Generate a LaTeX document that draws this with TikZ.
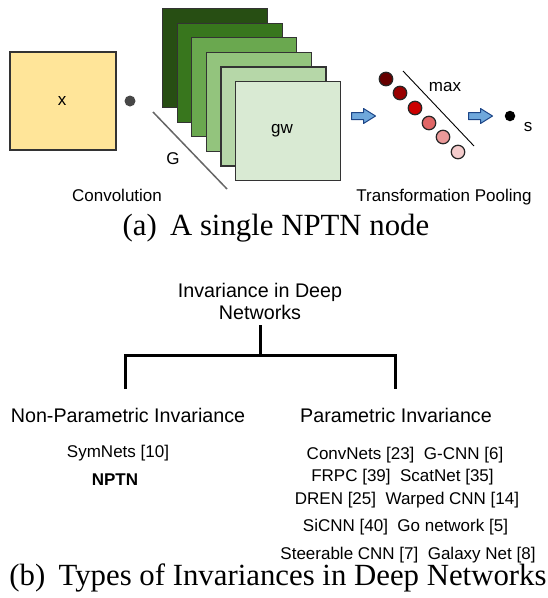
\documentclass[tikz,border=0pt]{standalone}
\usepackage{fontspec}
\setmainfont{Liberation Sans}
\newfontfamily\capfont{Liberation Serif}
\definecolor{ylw}{HTML}{FFE599}
\definecolor{gA}{HTML}{274E13}
\definecolor{gB}{HTML}{38761D}
\definecolor{gC}{HTML}{6AA84F}
\definecolor{gD}{HTML}{93C47D}
\definecolor{gE}{HTML}{B6D7A8}
\definecolor{gF}{HTML}{D9EAD3}
\definecolor{rA}{HTML}{660000}
\definecolor{rB}{HTML}{990000}
\definecolor{rC}{HTML}{CC0000}
\definecolor{rD}{HTML}{E06666}
\definecolor{rE}{HTML}{EA9999}
\definecolor{rF}{HTML}{F4CCCC}
\definecolor{blu}{HTML}{6FA8DC}
\definecolor{bluedge}{HTML}{1C4587}
\definecolor{edge}{HTML}{333333}
\tikzset{
  lbl/.style={font=\fontsize{17}{20}\selectfont, inner sep=0pt},
  sq/.style={draw=edge, line width=1.2pt, minimum width=105pt, minimum height=99pt, inner sep=0pt, anchor=north west},
  rdot/.style={circle, draw=black!85, line width=1.2pt, minimum size=13.5pt, inner sep=0pt},
  captext/.style={font=\capfont\fontsize{30.8}{34}\selectfont, inner sep=0pt},
  hdr/.style={font=\fontsize{19.7}{22}\selectfont, inner sep=0pt},
  item/.style={font=\fontsize{17}{20}\selectfont, inner sep=0pt},
  tree/.style={line width=3pt, line join=miter},
  barrow/.pic={\draw[draw=bluedge, fill=blu, line width=1pt, line join=round] (-12,-3.5) -- (0,-3.5) -- (0,-7.5) -- (12,0) -- (0,7.5) -- (0,3.5) -- (-12,3.5) -- cycle;}
}
\begin{document}
\begin{tikzpicture}[x=1pt,y=-1pt]
\useasboundingbox (0,0) rectangle (548,598);
% ---- part (a)
\node[draw=edge, line width=1.2pt, fill=ylw, minimum width=106pt, minimum height=98pt, inner sep=0pt] (xbox) at (63,101) {};
\node[lbl] (xlab) at (62,101) {x};
\node[circle, fill=black!72, minimum size=11pt, inner sep=0pt] (conv) at (130,101) {};
\node[sq, fill=gA] (s1) at (162,8) {};
\node[sq, fill=gB] (s2) at (176.6,22.6) {};
\node[sq, fill=gC] (s3) at (191.2,37.2) {};
\node[sq, fill=gD] (s4) at (205.8,51.8) {};
\node[sq, fill=gE] (s5) at (220.4,66.4) {};
\node[sq, fill=gF] (s6) at (235,81) {};
\node[lbl] (gw) at (282,131) {gw};
\coordinate (ga) at (153,112);
\coordinate (gb) at (227,189);
\draw[black!60, line width=1.5pt] (ga) -- (gb);
\node[lbl] (G) at (173,159) {G};
\node[lbl] (convlab) at (117,195) {Convolution};
\pic (ar1) at (363.5,116) {barrow};
\node[rdot, fill=rA] (r1) at (386,79) {};
\node[rdot, fill=rB] (r2) at (400,93) {};
\node[rdot, fill=rC] (r3) at (415,108) {};
\node[rdot, fill=rD] (r4) at (429,123) {};
\node[rdot, fill=rE] (r5) at (443,137) {};
\node[rdot, fill=rF] (r6) at (458,152) {};
\coordinate (ma) at (403,71);
\coordinate (mb) at (474,146);
\draw[black, line width=0.9pt] (ma) -- (mb);
\node[lbl] (max) at (445,87) {max};
\pic (ar2) at (480.5,116) {barrow};
\node[circle, fill=black, minimum size=10.5pt, inner sep=0pt] (sdot) at (510,116) {};
\node[lbl] (slab) at (528,127) {s};
\node[lbl] (poolab) at (444,197) {Transformation Pooling};
\node[captext] (capa) at (276,228) {(a)\hspace{0.43em}A single NPTN node};
% ---- part (b)
\node[hdr, align=center] (title) at (260,301) {Invariance in Deep\\Networks};
\coordinate (stem) at (260,325);
\coordinate (junc) at (260,355);
\coordinate (lc) at (125,355);
\coordinate (rc) at (395,355);
\coordinate (ll) at (125,389);
\coordinate (rl) at (395,389);
\draw[tree] (stem) -- (junc);
\draw[tree] (ll) -- (lc) -- (rc) -- (rl);
\node[hdr] (np) at (128,415) {Non-Parametric Invariance};
\node[hdr] (pp) at (396,415) {Parametric Invariance};
\node[item] (sym) at (118,453) {SymNets [10]};
\node[item, font=\fontsize{17}{20}\selectfont\bfseries] (nptn) at (115,480) {NPTN};
\node[item] (p1) at (405,455) {ConvNets [23]\ \ G-CNN [6]};
\node[item] (p2) at (402.5,477) {FRPC [39]\ \ ScatNet [35]};
\node[item] (p3) at (407,500) {DREN [25]\ \ Warped CNN [14]};
\node[item] (p4) at (405.5,527) {SiCNN [40]\ \ Go network [5]};
\node[item] (p5) at (408,555) {Steerable CNN [7]\ \ Galaxy Net [8]};
\node[captext] (capb) at (278,578) {(b)\hspace{0.43em}Types of Invariances in Deep Networks};
\end{tikzpicture}
\end{document}
